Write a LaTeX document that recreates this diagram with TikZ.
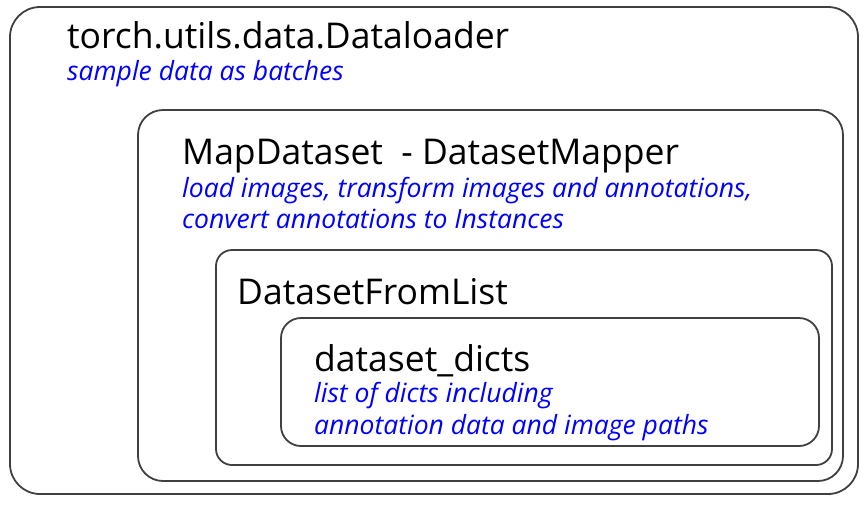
\documentclass[tikz,border=0pt]{standalone}
\usepackage{fontspec}
\setmainfont{Open Sans}
\begin{document}
\begin{tikzpicture}[x=1pt,y=-1pt,
  frame/.style={draw=black!75, line width=1.8pt},
  title/.style={anchor=base west, inner sep=0pt, text=black, font=\fontsize{35.5}{42}\selectfont},
  note/.style={anchor=base west, inner sep=0pt, text=blue, font=\fontsize{26.5}{32}\selectfont\itshape, align=left}]
\useasboundingbox (0,0) rectangle (868,507);
\draw[frame, rounded corners=30pt] (10,7) rectangle (858,494);
\draw[frame, rounded corners=25pt] (138,110) rectangle (843,481);
\draw[frame, rounded corners=16pt] (216,250) rectangle (832,465);
\draw[frame, rounded corners=20pt] (281,318) rectangle (819,446);
\node[title] (t1) at (67,48) {torch.utils.data.Dataloader};
\node[note] (n1) at (67,80) {sample data as batches};
\node[title] (t2) at (182,164) {MapDataset\ \ - DatasetMapper};
\node[note] (n2a) at (182,197) {load images, transform images and annotations,};
\node[note] (n2b) at (182,228) {convert annotations to Instances};
\node[title] (t3) at (237,304) {DatasetFromList};
\node[title] (t4) at (314,371) {dataset\_dicts};
\node[note] (n4a) at (314,402) {list of dicts including};
\node[note] (n4b) at (314,434) {annotation data and image paths};
\end{tikzpicture}
\end{document}
